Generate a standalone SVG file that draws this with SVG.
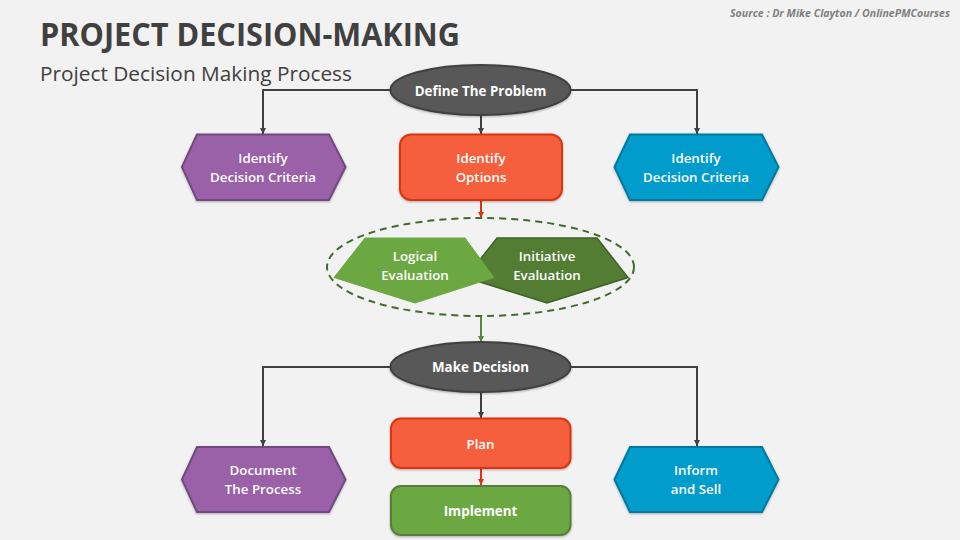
<svg xmlns="http://www.w3.org/2000/svg" width="960" height="540" viewBox="0 0 960 540">
<style>
text{font-family:"Open Sans","Liberation Sans",sans-serif;text-anchor:middle}
.lb{font-size:13.300px;fill:#fff;font-weight:600}
.b{font-size:13.400px;fill:#fff;font-weight:700}
.s{filter:url(#sh)}
.c{fill:none;stroke:#404040;stroke-width:2}
.dk{fill:#595959;stroke:#404040;stroke-width:2}
.pu{fill:#9a60a8;stroke:#6f4a80;stroke-width:2}
.bl{fill:#069ccc;stroke:#067a9f;stroke-width:2}
.or{fill:#f55f3c;stroke:#dc3510;stroke-width:2}
.gr{fill:#6ca842;stroke:#55803a;stroke-width:2}
</style>
<defs>
<filter id="sh" x="-10%" y="-10%" width="120%" height="125%"><feDropShadow dx="0" dy="1" stdDeviation="1.2" flood-color="#000" flood-opacity=".3"/></filter>
<marker id="ag" markerUnits="userSpaceOnUse" markerWidth="7" markerHeight="6" refX="6" refY="3" orient="auto"><path d="M0 0L6 3L0 6z" fill="#404040"/></marker>
<marker id="ar" markerUnits="userSpaceOnUse" markerWidth="7" markerHeight="6" refX="6" refY="3" orient="auto"><path d="M0 0L6 3L0 6z" fill="#dc3510"/></marker>
<marker id="agr" markerUnits="userSpaceOnUse" markerWidth="7" markerHeight="6" refX="6" refY="3" orient="auto"><path d="M0 0L6 3L0 6z" fill="#55883a"/></marker>
</defs>
<rect width="960" height="540" fill="#f2f2f2"/>
<text x="40" y="45.500" textLength="420" lengthAdjust="spacingAndGlyphs" style="text-anchor:start;font-size:32px;font-weight:700;fill:#404040">PROJECT DECISION-MAKING</text>
<text x="40" y="81" style="text-anchor:start;font-size:20.800px;fill:#404040">Project Decision Making Process</text>
<text x="950" y="17" style="text-anchor:end;font-size:10.600px;font-weight:700;font-style:italic;fill:#7f7f7f">Source : Dr Mike Clayton / OnlinePMCourses</text>
<g id="connectors">
<path class="c" d="M390 90H263V134" marker-end="url(#ag)"/>
<path class="c" d="M570 90H697V134" marker-end="url(#ag)"/>
<path class="c" d="M481 115V134" marker-end="url(#ag)"/>
<path d="M481 200V218" fill="none" stroke="#dc3510" stroke-width="2" marker-end="url(#ar)"/>
<path d="M481 316V342" fill="none" stroke="#55883a" stroke-width="2" marker-end="url(#agr)"/>
<path class="c" d="M390 367H263V446" marker-end="url(#ag)"/>
<path class="c" d="M570 367H697V446" marker-end="url(#ag)"/>
<path class="c" d="M481 392V418" marker-end="url(#ag)"/>
<path d="M481 468V485" fill="none" stroke="#dc3510" stroke-width="2" marker-end="url(#ar)"/>
</g>
<g id="n-define"><ellipse class="dk s" cx="480.500" cy="90" rx="90" ry="25"/><text class="b" x="480.500" y="95.500">Define The Problem</text></g>
<g id="n-criteria-left"><path class="pu s" d="M182 167L197 134.500H329L345.500 167L329 200H197z"/><text class="lb" x="263" y="162.500">Identify</text><text class="lb" x="263" y="181.500">Decision Criteria</text></g>
<g id="n-options"><rect class="or s" x="400" y="134.500" width="162" height="65.500" rx="11"/><text class="lb" x="481" y="162.500">Identify</text><text class="lb" x="481" y="181.500">Options</text></g>
<g id="n-criteria-right"><path class="bl s" d="M614.500 167L630 134.500H762L778.500 167L762 200H630z"/><text class="lb" x="696" y="162.500">Identify</text><text class="lb" x="696" y="181.500">Decision Criteria</text></g>
<g id="n-group"><ellipse cx="480.500" cy="267" rx="153.500" ry="49" fill="none" stroke="#3f6b2c" stroke-width="2" stroke-dasharray="7 5"/></g>
<g id="n-initiative"><path d="M466 277.500L497 238H597L628 277.500L547 303z" fill="#527d32" stroke="#3f6126" stroke-width="1.500"/><text class="lb" x="547" y="260.500">Initiative</text><text class="lb" x="547" y="279.500">Evaluation</text></g>
<g id="n-logical"><path d="M334 277.500L365 238H465L494 277.500L415 303z" fill="#6ca842" stroke="#6ca842" stroke-width="1"/><text class="lb" x="415" y="260.500">Logical</text><text class="lb" x="415" y="279.500">Evaluation</text></g>
<g id="n-decision"><ellipse class="dk s" cx="480.500" cy="367" rx="90" ry="25"/><text class="b" x="480.500" y="372">Make Decision</text></g>
<g id="n-document"><path class="pu s" d="M182 479.500L197 447H329L345.500 479.500L329 512H197z"/><text class="lb" x="263" y="474.500">Document</text><text class="lb" x="263" y="493.500">The Process</text></g>
<g id="n-plan"><rect class="or s" x="391" y="418.500" width="179.500" height="49.500" rx="10"/><text class="lb" x="480.500" y="448.500">Plan</text></g>
<g id="n-implement"><rect class="gr s" x="391" y="486" width="179.500" height="49" rx="10"/><text class="b" x="480.500" y="515.500">Implement</text></g>
<g id="n-inform"><path class="bl s" d="M614.500 479.500L630 447H762L778.500 479.500L762 512H630z"/><text class="lb" x="696" y="474.500">Inform</text><text class="lb" x="696" y="493.500">and Sell</text></g>
</svg>
